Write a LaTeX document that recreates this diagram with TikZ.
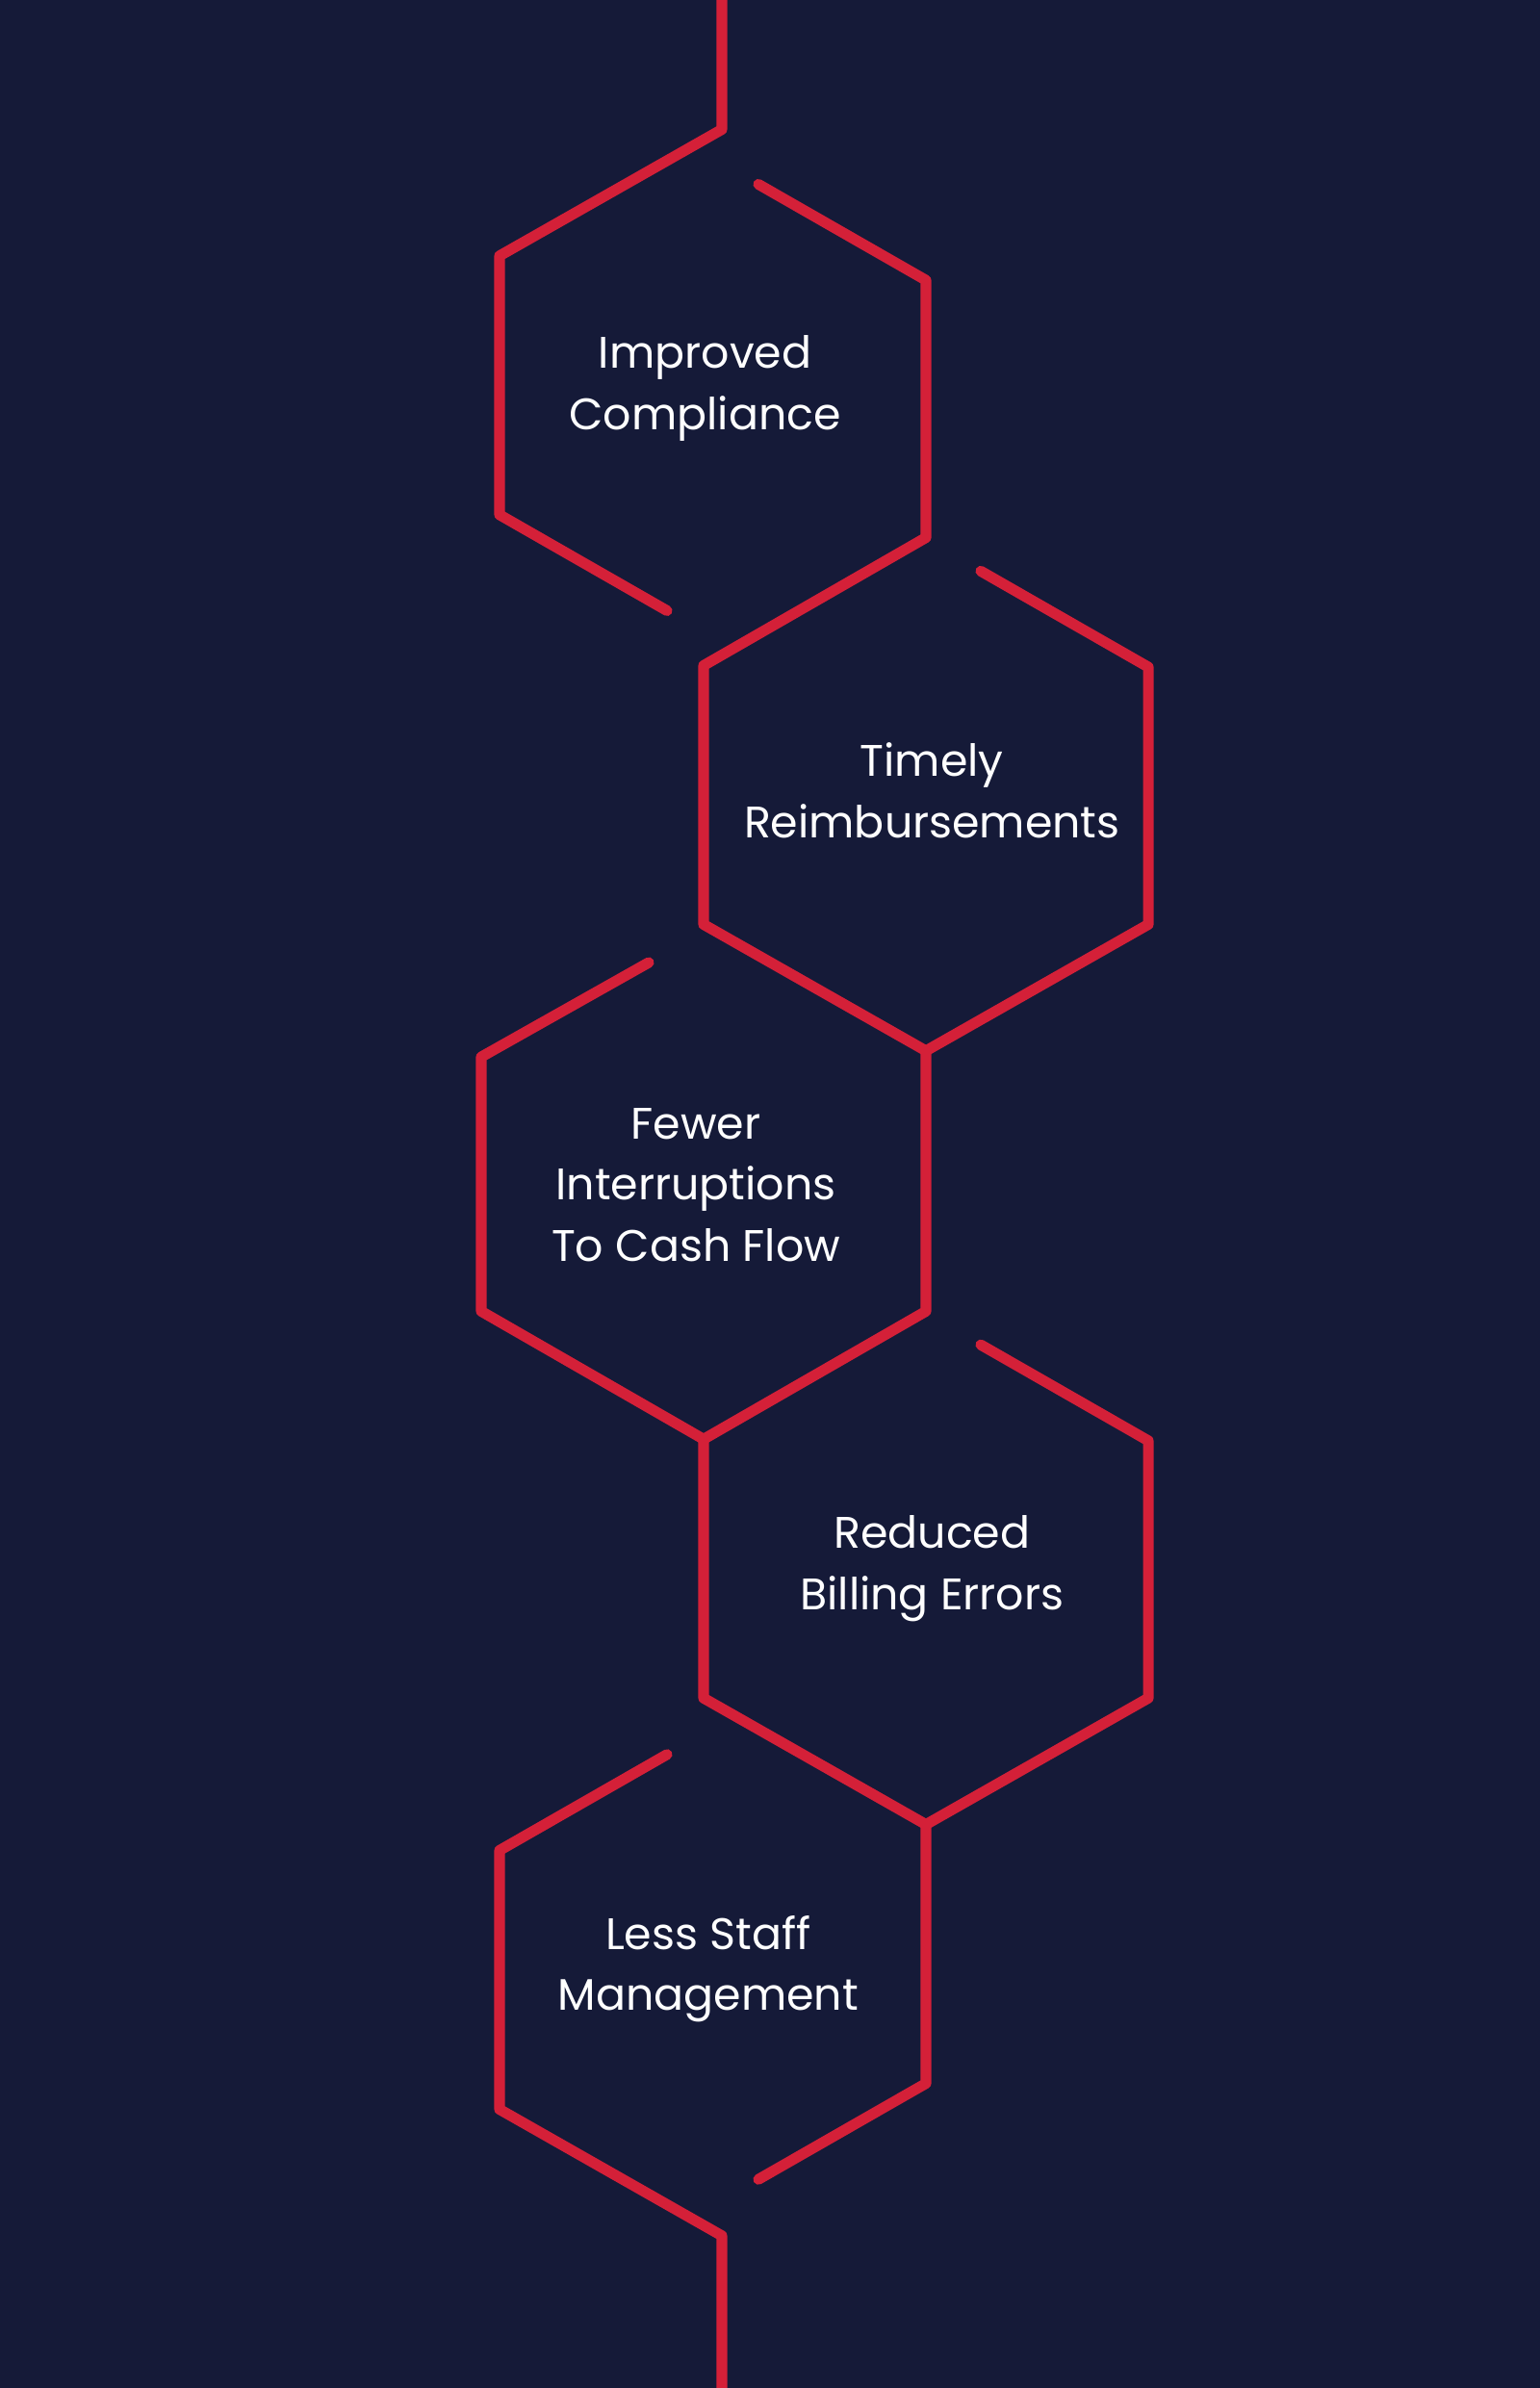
\documentclass[tikz,border=0pt]{standalone}
\usepackage{fontspec}
\setmainfont{Poppins}
\definecolor{bg}{HTML}{151A38}
\definecolor{hexred}{HTML}{D42038}
\begin{document}
\begin{tikzpicture}[x=1pt,y=-1pt,
  hexline/.style={draw=hexred,line width=7pt,line cap=round,line join=round},
  lbl/.style={text=white,align=center,font=\fontsize{29}{40}\selectfont}]
\fill[bg] (0,0) rectangle (1011,1568);
\useasboundingbox (0,0) rectangle (1011,1568);
\draw[hexline] (474,-10) -- (474,85) -- (328,168) -- (328,338) -- (438,401);
\draw[hexline] (498,121) -- (608,184) -- (608,353) -- (462,437) -- (462,607) -- (608,690) -- (754,607) -- (754,438) -- (644,375);
\draw[hexline] (426,632) -- (316,694) -- (316,861) -- (462,945) -- (608,861) -- (608,690);
\draw[hexline] (462,945) -- (462,1115) -- (608,1198) -- (754,1115) -- (754,946) -- (644,883);
\draw[hexline] (608,1198) -- (608,1368) -- (498,1431);
\draw[hexline] (438,1152) -- (328,1215) -- (328,1385) -- (474,1468) -- (474,1580);
\node[lbl] (t1) at (463,255) {Improved\\Compliance};
\node[lbl] (t2) at (612,519) {Timely\\Reimbursements};
\node[lbl] (t3) at (457,778) {Fewer\\Interruptions\\To Cash Flow};
\node[lbl] (t4) at (612,1030) {Reduced\\Billing Errors};
\node[lbl] (t5) at (465,1293) {Less Staff\\Management};
\end{tikzpicture}
\end{document}
